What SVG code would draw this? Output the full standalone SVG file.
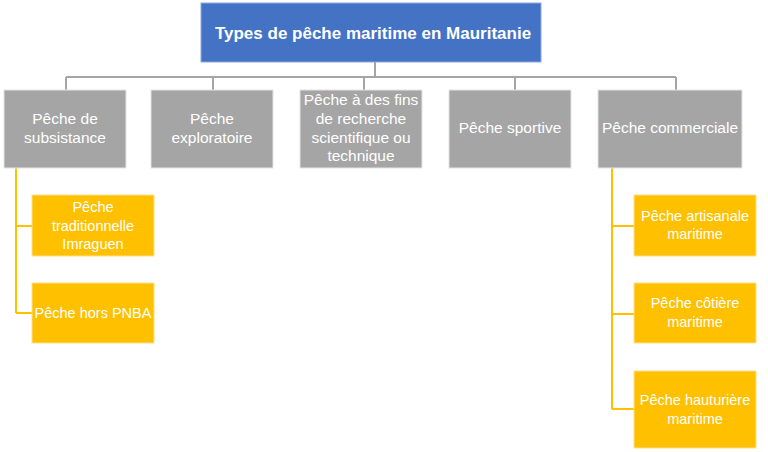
<svg xmlns="http://www.w3.org/2000/svg" width="768" height="452" viewBox="0 0 768 452">
<style>
.t{font-family:"Liberation Sans",Arial,sans-serif;font-size:15.5px;fill:#fff;text-anchor:middle}
.ty{font-size:14.5px}
.title{font-size:17px;font-weight:bold}
.g{fill:#a5a5a5;stroke:#e4e4e4;stroke-width:1}
.y{fill:#ffc000;stroke:#ffe08a;stroke-width:1}
.b{fill:#4472c4;stroke:#8faadc;stroke-width:1}
.cg{stroke:#a5a5a5;stroke-width:2;fill:none}
.cy{stroke:#ffc000;stroke-width:2;fill:none}
</style>
<rect width="768" height="452" fill="#fff"/>
<g id="connectors">
<path class="cg" d="M375 62V77M66 77H676M66 77V90M213 77V90M364 77V90M515 77V90M676 77V90"/>
<path class="cy" d="M16 168V313M16 226H32M16 313H32"/>
<path class="cy" d="M612 168V409M612 226H634M612 314H634M612 409H634"/>
</g>
<g id="title">
<rect class="b" x="201" y="3" width="340" height="59"/>
<text class="t title" x="373" y="39">Types de pêche maritime en Mauritanie</text>
</g>
<g id="subsistance">
<rect class="g" x="4" y="90" width="122" height="78"/>
<text class="t" x="65" y="124">Pêche de</text>
<text class="t" x="65" y="143">subsistance</text>
</g>
<g id="exploratoire">
<rect class="g" x="151" y="90" width="122" height="78"/>
<text class="t" x="212" y="124">Pêche</text>
<text class="t" x="212" y="143">exploratoire</text>
</g>
<g id="recherche">
<rect class="g" x="300" y="90" width="122" height="78"/>
<text class="t" x="361" y="105">Pêche à des fins</text>
<text class="t" x="361" y="124">de recherche</text>
<text class="t" x="361" y="143">scientifique ou</text>
<text class="t" x="361" y="161">technique</text>
</g>
<g id="sportive">
<rect class="g" x="449" y="90" width="122" height="78"/>
<text class="t" x="510" y="133">Pêche sportive</text>
</g>
<g id="commerciale">
<rect class="g" x="598" y="90" width="144" height="78"/>
<text class="t" x="670" y="133">Pêche commerciale</text>
</g>
<g id="imraguen">
<rect class="y" x="32" y="195" width="122" height="61"/>
<text class="t ty" x="93" y="212">Pêche</text>
<text class="t ty" x="93" y="231">traditionnelle</text>
<text class="t ty" x="93" y="249">Imraguen</text>
</g>
<g id="hors-pnba">
<rect class="y" x="32" y="283" width="122" height="60"/>
<text class="t ty" x="93" y="318">Pêche hors PNBA</text>
</g>
<g id="artisanale">
<rect class="y" x="634" y="195" width="122" height="61"/>
<text class="t ty" x="695" y="221">Pêche artisanale</text>
<text class="t ty" x="695" y="239">maritime</text>
</g>
<g id="cotiere">
<rect class="y" x="634" y="283" width="122" height="60"/>
<text class="t ty" x="695" y="308">Pêche côtière</text>
<text class="t ty" x="695" y="327">maritime</text>
</g>
<g id="hauturiere">
<rect class="y" x="634" y="371" width="122" height="77"/>
<text class="t ty" x="695" y="405">Pêche hauturière</text>
<text class="t ty" x="695" y="424">maritime</text>
</g>
</svg>
